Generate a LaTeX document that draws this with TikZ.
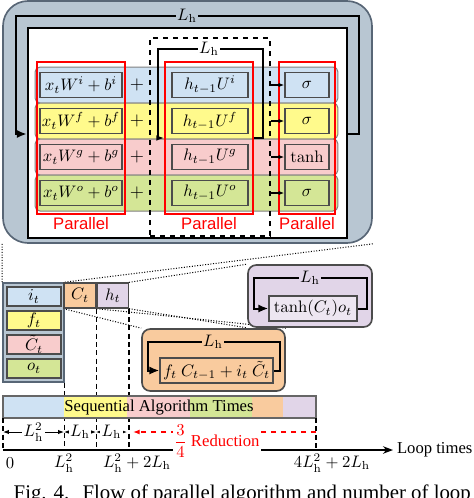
\documentclass[tikz,border=0pt]{standalone}
\usepackage[no-math]{fontspec}
\setmainfont{Liberation Serif}
\setsansfont{Liberation Sans}
\usepackage{amsmath}
\usetikzlibrary{positioning, arrows.meta, backgrounds}
\definecolor{cblue}{RGB}{207,226,243}
\definecolor{cyellow}{RGB}{255,250,140}
\definecolor{cpink}{RGB}{248,204,204}
\definecolor{cgreen}{RGB}{212,230,150}
\definecolor{corange}{RGB}{249,203,158}
\definecolor{cpurple}{RGB}{225,213,232}
\definecolor{steel}{RGB}{184,198,210}
\definecolor{frame}{RGB}{88,102,118}

\begin{document}
\begin{tikzpicture}[x=0.6pt, y=-0.6pt, thick,
  cell/.style={draw=black!70, line width=0.8pt, minimum height=15pt, inner sep=0pt, font=\fontsize{10}{12}\selectfont},
  op/.style={font=\fontsize{11}{13}\selectfont},
  strip/.style={draw=black!50, line width=0.6pt, rounded corners=3pt, minimum width=181.8pt, minimum height=21.6pt},
  parbox/.style={draw=red, line width=1.3pt, minimum height=91.2pt},
  partext/.style={red, font=\sffamily, inner sep=1pt},
  loopline/.style={line width=1.2pt, -{Latex[length=6pt,width=5pt]}},
  zoomline/.style={densely dotted, line width=0.6pt},
  vdash/.style={densely dashed, line width=0.8pt},
  seg/.style={minimum height=13.2pt, inner sep=0pt, outer sep=0pt},
  dim/.style={{Latex[length=3.5pt]}-{Latex[length=3.5pt]}, line width=0.6pt},
  lab/.style={fill=white, inner sep=1pt}
]
\useasboundingbox (0,0) rectangle (474,498);

\node[draw=frame, fill=steel, line width=1pt, rounded corners=15pt, minimum width=221.4pt, minimum height=145.2pt] (outer) at (187.5,122) {};
\node[draw, fill=white, line width=1.5pt, minimum width=191.4pt, minimum height=126pt] (inner) at (187.5,133) {};
\draw[loopline] (inner.east |- 0,134) -- ++(11,0) |- (16,16) |- (inner.west |- 0,134);
\node[fill=steel, inner sep=1pt] (lout) at (187,16) {$L_\mathrm{h}$};

\node[strip, fill=cblue] (ri) at (186.5,85) {};
\node[strip, fill=cyellow] (rf) at (186.5,121) {};
\node[strip, fill=cpink] (rg) at (186.5,157) {};
\node[strip, fill=cgreen] (ro) at (186.5,193) {};

\node[cell, fill=cblue, minimum width=49.2pt] (xi) at (81,85) {$x_tW^i+b^i$};
\node[op] (pi) at (137,85) {$+$};
\node[cell, fill=cblue, minimum width=45.6pt] (hi) at (210,85) {$h_{t-1}U^i$};
\node[cell, fill=cblue, minimum width=26.4pt] (si) at (307,85) {$\sigma$};
\node[cell, fill=cyellow, minimum width=49.2pt] (xf) at (81,121) {$x_tW^f+b^f$};
\node[op] (pf) at (137,121) {$+$};
\node[cell, fill=cyellow, minimum width=45.6pt] (hf) at (210,121) {$h_{t-1}U^f$};
\node[cell, fill=cyellow, minimum width=26.4pt] (sf) at (307,121) {$\sigma$};
\node[cell, fill=cpink, minimum width=49.2pt] (xg) at (81,157) {$x_tW^g+b^g$};
\node[op] (pg) at (137,157) {$+$};
\node[cell, fill=cpink, minimum width=45.6pt] (hg) at (210,157) {$h_{t-1}U^g$};
\node[cell, fill=cpink, minimum width=26.4pt] (sg) at (307,157) {$\tanh$};
\node[cell, fill=cgreen, minimum width=49.2pt] (xo) at (81,193) {$x_tW^o+b^o$};
\node[op] (po) at (137,193) {$+$};
\node[cell, fill=cgreen, minimum width=45.6pt] (ho) at (210,193) {$h_{t-1}U^o$};
\node[cell, fill=cgreen, minimum width=26.4pt] (so) at (307,193) {$\sigma$};

\node[parbox, minimum width=52.8pt] (parx) at (81,138) {};
\node[parbox, minimum width=52.8pt] (parh) at (209,138) {};
\node[parbox, minimum width=33.6pt] (pars) at (307,138) {};
\node[partext, below=0pt of parx] (tx) {Parallel};
\node[partext, below=0pt of parh] (th) {Parallel};
\node[partext, below=0pt of pars] (ts) {Parallel};

\node[draw, dashed, line width=1pt, minimum width=72pt, minimum height=118.8pt] (rec) at (210,137) {};
\draw[line width=0.8pt, -{Latex[length=4.5pt]}] (parh.east |- 0,138) -- ++(9,0) |- (158,49) |- (parh.west |- 0,138);
\node[fill=white, inner sep=1pt] (lin) at (209,49) {$L_\mathrm{h}$};
\draw[line width=0.8pt, -{Latex[length=3.5pt]}] (rec.east |- si) -- (si);
\draw[line width=0.8pt, -{Latex[length=3.5pt]}] (rec.east |- sf) -- (sf);
\draw[line width=0.8pt, -{Latex[length=3.5pt]}] (rec.east |- sg) -- (sg);
\draw[line width=0.8pt, -{Latex[length=3.5pt]}] (rec.east |- so) -- (so);

\node[draw=frame, fill=steel, line width=1pt, minimum width=36.6pt, minimum height=59.4pt] (col) at (33.5,332.5) {};
\node[cell, fill=cblue, minimum width=32.4pt, minimum height=11.4pt] (it) at (34,296.5) {$i_t$};
\node[cell, fill=cyellow, minimum width=32.4pt, minimum height=11.4pt] (ft) at (34,320.5) {$f_t$};
\node[cell, fill=cpink, minimum width=32.4pt, minimum height=11.4pt] (gt) at (34,344.5) {$\tilde{C}_t$};
\node[cell, fill=cgreen, minimum width=32.4pt, minimum height=11.4pt] (ot) at (34,368.5) {$o_t$};
\node[cell, fill=corange, minimum width=19.2pt] (ct) at (80,295.5) {$C_t$};
\node[cell, fill=cpurple, minimum width=18.6pt, right=0pt of ct] (ht) {$h_t$};

\node[draw=black!70, fill=cpurple, line width=1pt, rounded corners=5pt, minimum width=74.4pt, minimum height=37.2pt] (hbox) at (310,296) {};
\node[cell, fill=cpurple!60, minimum width=52.8pt] (hexp) at (313,308.5) {$\tanh(C_t)o_t$};
\draw[loopline] (hexp.east) -- ++(9,0) |- (254,278) |- (hexp.west);
\node[fill=cpurple, inner sep=1pt] (lh) at (310,278) {$L_\mathrm{h}$};

\node[draw=black!70, fill=corange, line width=1pt, rounded corners=5pt, minimum width=85.8pt, minimum height=37.2pt] (cbox) at (213.5,360) {};
\node[cell, fill=corange, minimum width=67.8pt] (cexp) at (216.5,370.5) {$f_t\ C_{t-1}+i_t\ \tilde{C}_t$};
\draw[loopline] (cexp.east) -- ++(6,0) |- (148,342) |- (cexp.west);
\node[fill=corange, inner sep=1pt] (lc) at (213,342) {$L_\mathrm{h}$};

\begin{scope}[on background layer]
\draw[zoomline] (col.north west) -- (outer.south west);
\draw[zoomline] (col.north east) -- (outer.south east);
\draw[zoomline] (ht.north east) -- (hbox.north west);
\draw[zoomline] (ht.south east) -- (hbox.south west);
\draw[zoomline] (ct.south west) -- (cbox.north west);
\draw[zoomline] (ct.south east) -- (cbox.north east);
\end{scope}

\coordinate (o) at (3,450);
\coordinate (e) at (393,450);
\draw[vdash] (col.south east) -- (col.south east |- o);
\draw[vdash] (ct.south east) -- (ct.south east |- o);
\draw[vdash] (ht.south east) -- (ht.south east |- o);

\node[seg, fill=cblue, minimum width=36.6pt, anchor=west] (s1) at (3,407) {};
\node[seg, fill=cyellow, minimum width=37.8pt, right=0pt of s1] (s2) {};
\node[seg, fill=cpink, minimum width=37.8pt, right=0pt of s2] (s3) {};
\node[seg, fill=cgreen, minimum width=37.2pt, right=0pt of s3] (s4) {};
\node[seg, fill=corange, minimum width=18.6pt, right=0pt of s4] (s5) {};
\node[seg, fill=cpurple, minimum width=19.8pt, right=0pt of s5] (s6) {};
\draw[black!60, line width=0.8pt] (s1.north west) rectangle (s6.south east);
\node (seqtext) at (159,408) {Sequential Algorithm Times};
\draw[vdash] (s1.south west) -- (o);
\draw[vdash] (s6.south east) -- (s6.south east |- o);

\coordinate (m0) at (3,432);
\coordinate (m1) at (64,432);
\coordinate (m2) at (96,432);
\coordinate (m3) at (127,432);
\coordinate (m4) at (316,432);
\coordinate (m5) at (133,432);
\draw[dim] (m0) -- node[lab] (d1) {$L_\mathrm{h}^2$} (m1);
\draw[dim] (m1) -- node[lab] (d2) {$L_\mathrm{h}$} (m2);
\draw[dim] (m2) -- node[lab] (d3) {$L_\mathrm{h}$} (m3);
\draw[red, dashed, line width=0.8pt, -{Latex[length=4pt]}] (m4) -- (m5);
\draw[line width=0.8pt, -{Stealth[length=6pt]}] (o) -- (e) node[right, inner sep=2pt] (lt) {Loop times};
\node[red, fill=white, inner sep=1pt] (red) at (217,441) {$\dfrac{3}{4}$ Reduction};

\node (t0) at (10,463) {$0$};
\node (t1) at (64,463) {$L_\mathrm{h}^2$};
\node (t2) at (137,463) {$L_\mathrm{h}^2+2L_\mathrm{h}$};
\node (t3) at (332,463) {$4L_\mathrm{h}^2+2L_\mathrm{h}$};

\node[anchor=base west, inner sep=0pt, font=\fontsize{12.5}{15}\selectfont] (cap) at (13,499) {Fig. 4.\hspace{8pt}Flow of parallel algorithm and number of loop times};
\end{tikzpicture}
\end{document}
